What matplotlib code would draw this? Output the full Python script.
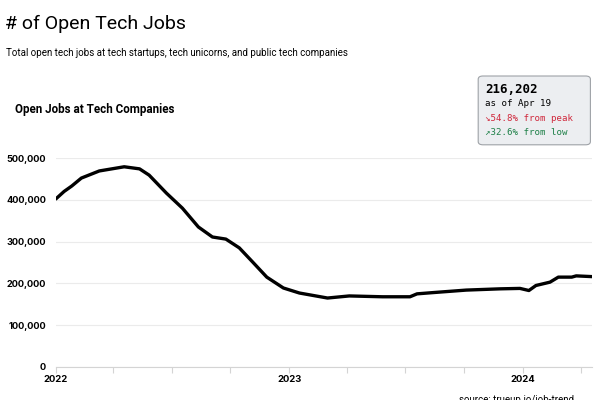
import pandas as pd
import matplotlib.pyplot as plt
import matplotlib.dates as mdates
from matplotlib.patches import FancyBboxPatch
from matplotlib.ticker import FuncFormatter

# Open tech jobs
dates = ['2022-01-01', '2022-01-14', '2022-01-26', '2022-02-10', '2022-03-10', '2022-04-18',
         '2022-05-12', '2022-05-27', '2022-06-23', '2022-07-18', '2022-08-12', '2022-09-03',
         '2022-09-24', '2022-10-15', '2022-11-05', '2022-11-27', '2022-12-23', '2023-01-17',
         '2023-03-02', '2023-04-05', '2023-05-27', '2023-07-09', '2023-07-20', '2023-08-14',
         '2023-10-05', '2023-11-27', '2023-12-28', '2024-01-11', '2024-01-22', '2024-02-13',
         '2024-02-26', '2024-03-18', '2024-03-25', '2024-04-19']
jobs = [402000, 420000, 433000, 452000, 469000, 479000,
        474000, 459000, 416000, 380000, 335000, 311000,
        306000, 285000, 251000, 215000, 189000, 177000,
        165000, 170000, 168000, 168000, 175000, 178000,
        184000, 187000, 188000, 183000, 195000, 203000,
        215000, 215000, 218000, 216202]

dates = pd.to_datetime(dates)

fig = plt.figure(figsize=(6, 4), dpi=100)
ax = fig.add_axes([0.093, 0.0825, 0.894, 0.5225])

ax.plot(dates, jobs, color='black', lw=2.4, solid_capstyle='round', solid_joinstyle='round')
ax.set_ylim(0, 500000)
ax.set_xlim(pd.Timestamp('2022-01-01'), pd.Timestamp('2024-04-19'))

ax.set_yticks([0, 100000, 200000, 300000, 400000, 500000])
ax.yaxis.set_major_formatter(FuncFormatter(lambda v, p: f'{int(v):,}'))
ax.grid(axis='y', color='#ebebeb', lw=0.8)
ax.set_axisbelow(True)

ax.xaxis.set_major_locator(mdates.YearLocator())
ax.xaxis.set_major_formatter(mdates.DateFormatter('%Y'))
ax.xaxis.set_minor_locator(mdates.MonthLocator(bymonth=[4, 7, 10]))

for s in ['top', 'right', 'left']:
    ax.spines[s].set_visible(False)
ax.spines['bottom'].set_color('#d4d4d4')
ax.spines['bottom'].set_linewidth(0.8)

ax.tick_params(axis='y', length=0, pad=7, labelsize=6.6, labelcolor='black')
ax.tick_params(axis='x', which='both', length=4, color='#d4d4d4', width=0.8,
               labelsize=6.8, pad=2)
for lab in ax.get_xticklabels() + ax.get_yticklabels():
    lab.set_fontweight('bold')
    lab.set_family('Inter')

# Titles
fig.text(0.009, 0.94, '# of Open Tech Jobs', fontsize=14, family='Roboto', va='center')
fig.text(0.01, 0.868, 'Total open tech jobs at tech startups, tech unicorns, and public tech companies',
         fontsize=7, family='Roboto', va='center')
fig.text(0.025, 0.725, 'Open Jobs at Tech Companies', fontsize=8.4, family='Roboto',
         fontweight='bold', va='center')

# Callout box
box = FancyBboxPatch((0.797, 0.638), 0.187, 0.172, transform=fig.transFigure,
                     boxstyle='round,pad=0,rounding_size=0.008',
                     facecolor='#eceef1', edgecolor='#9ea2a7', lw=0.8)
fig.patches.append(box)
fig.text(0.808, 0.777, '216,202', fontsize=9, family='DejaVu Sans Mono',
         fontweight='bold', va='center')
fig.text(0.808, 0.742, 'as of Apr 19', fontsize=6.6, family='DejaVu Sans Mono', va='center')
fig.text(0.808, 0.704, '\u2198' + '54.8% from peak', fontsize=6.6, family='DejaVu Sans Mono',
         color='#d0283c', va='center')
fig.text(0.808, 0.668, '\u2197' + '32.6% from low', fontsize=6.6, family='DejaVu Sans Mono',
         color='#1e8048', va='center')

fig.text(0.765, 0.0, 'source: trueup.io/job-trend', fontsize=7, family='Roboto', va='center')

fig.savefig('out.png', dpi=100)
